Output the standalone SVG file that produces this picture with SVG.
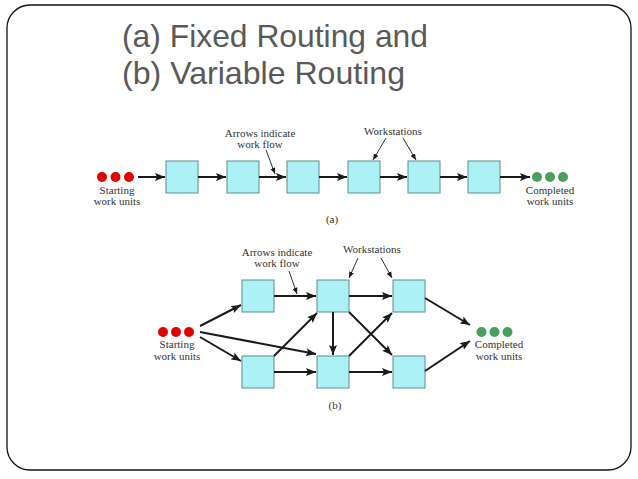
<svg xmlns="http://www.w3.org/2000/svg" width="638" height="479" viewBox="0 0 638 479">
<defs>
<marker id="ah" viewBox="0 0 10 8" refX="10" refY="4" markerWidth="5" markerHeight="4" orient="auto" markerUnits="strokeWidth"><path d="M0,0 L10,4 L0,8 L2,4 z" fill="#1a1a1a"/></marker>
<marker id="ahs" viewBox="0 0 10 8" refX="10" refY="4" markerWidth="7" markerHeight="6" orient="auto" markerUnits="strokeWidth"><path d="M0,0 L10,4 L0,8 z" fill="#1a1a1a"/></marker>
<style>
.box{fill:#abf1f6;stroke:#5b8d92;stroke-width:1}
.fl{stroke:#1a1a1a;stroke-width:2;fill:none;marker-end:url(#ah)}
.pt{stroke:#1a1a1a;stroke-width:0.9;fill:none;marker-end:url(#ahs)}
.lb{font-family:"Liberation Serif",serif;font-size:11px;fill:#333;text-anchor:middle}
.ti{font-family:"Liberation Sans",Arial,sans-serif;font-size:32px;fill:#595959}
.red{fill:#e30000}
.grn{fill:#4b9e5c}
</style>
</defs>
<rect x="7" y="5" width="624" height="465" rx="23" ry="23" fill="#fff" stroke="#111" stroke-width="1.3"/>
<g id="title">
<text class="ti" x="122" y="47" textLength="306" lengthAdjust="spacingAndGlyphs">(a) Fixed Routing and</text>
<text class="ti" x="122" y="84" textLength="283" lengthAdjust="spacingAndGlyphs">(b) Variable Routing</text>
</g>
<!-- Part (a) -->
<g id="a-start"><circle class="red" cx="102" cy="177" r="5"/><circle class="red" cx="115.5" cy="177" r="5"/><circle class="red" cx="129" cy="177" r="5"/><text class="lb" x="117" y="194">Starting</text><text class="lb" x="117" y="205">work units</text></g>
<g id="a-ws1"><rect class="box" x="166" y="161" width="32" height="32"/></g>
<g id="a-ws2"><rect class="box" x="227" y="161" width="32" height="32"/></g>
<g id="a-ws3"><rect class="box" x="287" y="161" width="32" height="32"/></g>
<g id="a-ws4"><rect class="box" x="348" y="161" width="32" height="32"/></g>
<g id="a-ws5"><rect class="box" x="408" y="161" width="32" height="32"/></g>
<g id="a-ws6"><rect class="box" x="468" y="161" width="32" height="32"/></g>
<g id="a-end"><circle class="grn" cx="537" cy="177" r="5"/><circle class="grn" cx="550" cy="177" r="5"/><circle class="grn" cx="563" cy="177" r="5"/><text class="lb" x="550" y="194">Completed</text><text class="lb" x="550" y="205">work units</text></g>
<g id="a-labels">
<text class="lb" x="260" y="137">Arrows indicate</text><text class="lb" x="260" y="148">work flow</text>
<text class="lb" x="393" y="135">Workstations</text>
<text class="lb" x="332" y="223">(a)</text>
</g>
<!-- Part (b) -->
<g id="b-start"><circle class="red" cx="163" cy="332" r="5"/><circle class="red" cx="176" cy="332" r="5"/><circle class="red" cx="189" cy="332" r="5"/><text class="lb" x="177" y="348">Starting</text><text class="lb" x="177" y="360">work units</text></g>
<g id="b-ws1"><rect class="box" x="242" y="280" width="32" height="32"/></g>
<g id="b-ws2"><rect class="box" x="317" y="280" width="32" height="32"/></g>
<g id="b-ws3"><rect class="box" x="242" y="356" width="32" height="32"/></g>
<g id="b-ws4"><rect class="box" x="317" y="356" width="32" height="32"/></g>
<g id="b-ws5"><rect class="box" x="393" y="280" width="32" height="32"/></g>
<g id="b-ws6"><rect class="box" x="393" y="356" width="32" height="32"/></g>
<g id="b-end"><circle class="grn" cx="481.5" cy="332" r="5"/><circle class="grn" cx="494.5" cy="332" r="5"/><circle class="grn" cx="507.5" cy="332" r="5"/><text class="lb" x="499" y="348">Completed</text><text class="lb" x="499" y="360">work units</text></g>
<g id="b-labels">
<text class="lb" x="277" y="256">Arrows indicate</text><text class="lb" x="277" y="267">work flow</text>
<text class="lb" x="372" y="253">Workstations</text>
<text class="lb" x="335" y="409">(b)</text>
</g>
<g id="connectors">
<line class="fl" x1="138" y1="177" x2="165" y2="177"/>
<line class="fl" x1="198" y1="177" x2="226" y2="177"/>
<line class="fl" x1="259" y1="177" x2="286" y2="177"/>
<line class="fl" x1="319" y1="177" x2="347" y2="177"/>
<line class="fl" x1="380" y1="177" x2="407" y2="177"/>
<line class="fl" x1="440" y1="177" x2="467" y2="177"/>
<line class="fl" x1="500" y1="177" x2="530" y2="177"/>
<line class="pt" x1="266" y1="150" x2="275" y2="174"/>
<line class="pt" x1="386" y1="138" x2="373" y2="160"/>
<line class="pt" x1="403" y1="138" x2="416" y2="160"/>
<line class="fl" x1="200" y1="326" x2="241" y2="305"/>
<line class="fl" x1="200" y1="332" x2="316" y2="354"/>
<line class="fl" x1="200" y1="337" x2="241" y2="361"/>
<line class="fl" x1="274" y1="296" x2="316" y2="296"/>
<line class="fl" x1="274" y1="372" x2="316" y2="372"/>
<line class="fl" x1="274" y1="356" x2="317" y2="313"/>
<line class="fl" x1="333" y1="312" x2="333" y2="355"/>
<line class="fl" x1="349" y1="296" x2="392" y2="296"/>
<line class="fl" x1="349" y1="312" x2="392" y2="355"/>
<line class="fl" x1="349" y1="356" x2="392" y2="313"/>
<line class="fl" x1="349" y1="372" x2="392" y2="372"/>
<line class="fl" x1="425" y1="298" x2="470" y2="325"/>
<line class="fl" x1="425" y1="371" x2="470" y2="341"/>
<line class="pt" x1="289" y1="271" x2="297" y2="294"/>
<line class="pt" x1="358" y1="258" x2="349" y2="278"/>
<line class="pt" x1="381" y1="258" x2="392" y2="278"/>
</g>
</svg>
